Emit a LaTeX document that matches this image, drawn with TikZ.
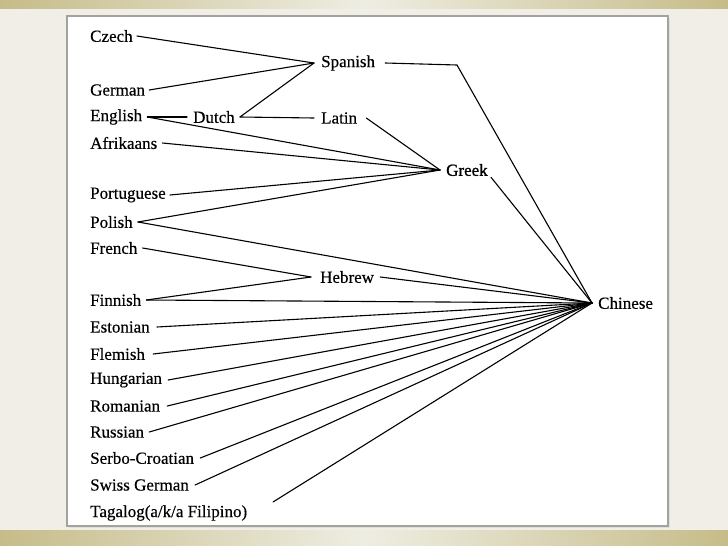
\documentclass[tikz,border=0pt]{standalone}
\usepackage{fontspec}
\setmainfont{Liberation Serif}[FakeBold=0.35]
\newfontfamily\greekbold{Liberation Serif}[FakeBold=1.2]
\definecolor{barside}{HTML}{C6BC89}
\definecolor{barmid}{HTML}{EEEDE2}
\definecolor{cream}{HTML}{F0EEE6}
\definecolor{frame}{HTML}{A3A39C}
\begin{document}
\begin{tikzpicture}[x=1pt,y=-1pt,
  lang/.style={anchor=west, inner xsep=0pt, inner ysep=1pt, font=\fontsize{17}{20}\selectfont},
  link/.style={line width=1.1pt, line cap=round}]
\useasboundingbox (0,0) rectangle (728,546);
% background
\fill[cream] (0,0) rectangle (728,546);
\shade[left color=barside, right color=barside, middle color=barmid] (0,0) rectangle (728,8);
\shade[left color=barside, right color=barside, middle color=barmid] (0,530) rectangle (728,546);
\fill[black!12] (69,18) rectangle (670,528);
\draw[frame, line width=2pt, fill=white] (67,16) rectangle (668,526);
% left labels
\node[lang] (Czech) at (90,36) {Czech};
\node[lang] (German) at (90,90) {German};
\node[lang] (English) at (90,117) {English};
\node[lang] (Afrikaans) at (90,143) {Afrikaans};
\node[lang] (Portuguese) at (90,195) {Portuguese};
\node[lang] (Polish) at (90,222) {Polish};
\node[lang] (French) at (90,248) {French};
\node[lang] (Finnish) at (90,300) {Finnish};
\node[lang] (Estonian) at (90,327) {Estonian};
\node[lang] (Flemish) at (90,354) {Flemish};
\node[lang] (Hungarian) at (90,380) {Hungarian};
\node[lang] (Romanian) at (90,406) {Romanian};
\node[lang] (Russian) at (90,432) {Russian};
\node[lang] (Serbo) at (90,458) {Serbo-Croatian};
\node[lang] (Swiss) at (90,485) {Swiss German};
\node[lang] (Tagalog) at (90,513) {Tagalog(a/k/a Filipino)};
% hub labels
\node[lang] (Dutch) at (193,117) {Dutch};
\node[lang] (Spanish) at (321,63) {Spanish};
\node[lang] (Latin) at (321,118) {Latin};
\node[lang, font=\fontsize{17}{20}\selectfont\greekbold] (Greek) at (446,170) {Greek};
\node[lang] (Hebrew) at (320,277) {Hebrew};
\node[lang] (Chinese) at (598,303) {Chinese};
% apex points
\coordinate (spA) at ([xshift=-7pt]Spanish.west);
\coordinate (grA) at ([xshift=-6pt]Greek.west);
\coordinate (hbA) at ([xshift=-9pt]Hebrew.west);
\coordinate (chA) at ([xshift=-6pt]Chinese.west);
\coordinate (spBend) at (457,65);
\coordinate (tgEnd) at (273,502);
% connectors to Spanish
\draw[link] ([xshift=4pt]Czech.east) -- (spA);
\draw[link] ([xshift=4pt]German.east) -- (spA);
\draw[link] ([xshift=5pt]Dutch.east) -- (spA);
% English - Dutch - Latin
\draw[link] ([xshift=5pt]English.east) -- ([xshift=-6pt]Dutch.west);
\draw[link] ([xshift=5pt]Dutch.east) -- ([xshift=-7pt]Latin.west);
% connectors to Greek
\draw[link] ([xshift=9pt]Latin.east) -- (grA);
\draw[link] ([xshift=5pt]English.east) -- (grA);
\draw[link] ([xshift=5pt]Afrikaans.east) -- (grA);
\draw[link] ([xshift=4pt]Portuguese.east) -- (grA);
\draw[link] ([xshift=5pt]Polish.east) -- (grA);
% connectors to Hebrew
\draw[link] ([xshift=5pt]French.east) -- (hbA);
\draw[link] ([xshift=5pt]Finnish.east) -- (hbA);
% connectors to Chinese
\draw[link] ([xshift=10pt]Spanish.east) -- (spBend) -- (chA);
\draw[link] ([xshift=3pt]Greek.south east) -- (chA);
\draw[link] ([xshift=5pt]Polish.east) -- (chA);
\draw[link] ([xshift=6pt]Hebrew.east) -- (chA);
\draw[link] ([xshift=5pt]Finnish.east) -- (chA);
\draw[link] ([xshift=7pt]Estonian.east) -- (chA);
\draw[link] ([xshift=8pt]Flemish.east) -- (chA);
\draw[link] ([xshift=6pt]Hungarian.east) -- (chA);
\draw[link] ([xshift=7pt]Romanian.east) -- (chA);
\draw[link] ([xshift=5pt]Russian.east) -- (chA);
\draw[link] ([xshift=6pt]Serbo.east) -- (chA);
\draw[link] ([xshift=6pt]Swiss.east) -- (chA);
\draw[link] (tgEnd) -- (chA);
\end{tikzpicture}
\end{document}
